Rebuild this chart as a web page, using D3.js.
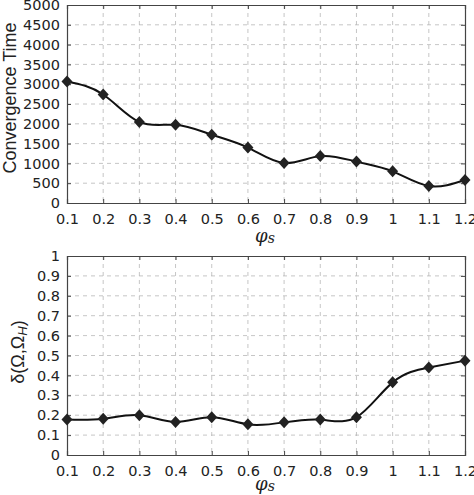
<!DOCTYPE html>
<html>
<head>
<meta charset="utf-8">
<script src="https://cdn.jsdelivr.net/npm/d3@7"></script>
<style>
  body { margin: 0; background: #fff; }
  svg { display: block; }
  .tick text { font-family: "DejaVu Sans", sans-serif; font-size: 14.5px; fill: #222; }
</style>
</head>
<body>
<script>
var phiS = [0.1, 0.2, 0.3, 0.4, 0.5, 0.6, 0.7, 0.8, 0.9, 1.0, 1.1, 1.2];
var convTime = [3070, 2740, 2045, 1975, 1725, 1400, 1010, 1185, 1045, 800, 430, 580];
var deltaVals = [0.178, 0.182, 0.200, 0.166, 0.190, 0.154, 0.164, 0.178, 0.190, 0.365, 0.440, 0.474];
var xTicks = [0.1, 0.2, 0.3, 0.4, 0.5, 0.6, 0.7, 0.8, 0.9, 1, 1.1, 1.2];
var yTicksTop = [0, 500, 1000, 1500, 2000, 2500, 3000, 3500, 4000, 4500, 5000];
var yTicksBottom = [0, 0.1, 0.2, 0.3, 0.4, 0.5, 0.6, 0.7, 0.8, 0.9, 1];

var w = 474, h = 495;
var left = 67, right = 465;

var svg = d3.select("body").append("svg")
    .attr("width", w)
    .attr("height", h);

var xScale = d3.scaleLinear().domain([0.1, 1.2]).range([left, right]);

function drawPanel(top, bottom, yMax, yTicks, values, yFormat) {
    var yScale = d3.scaleLinear().domain([0, yMax]).range([bottom, top]);
    var g = svg.append("g");

    // dashed grid
    g.selectAll("line.vgrid").data(xTicks.slice(1, -1)).enter().append("line")
        .attr("x1", function(d) { return xScale(d); })
        .attr("x2", function(d) { return xScale(d); })
        .attr("y1", top).attr("y2", bottom)
        .attr("stroke", "#b8b8b8").attr("stroke-width", 0.8)
        .attr("stroke-dasharray", "4,4");
    g.selectAll("line.hgrid").data(yTicks.slice(1, -1)).enter().append("line")
        .attr("y1", function(d) { return yScale(d); })
        .attr("y2", function(d) { return yScale(d); })
        .attr("x1", left).attr("x2", right)
        .attr("stroke", "#b8b8b8").attr("stroke-width", 0.8)
        .attr("stroke-dasharray", "4,4");

    // axes, ticks inward like matlab
    var xAxis = d3.axisBottom(xScale).tickValues(xTicks)
        .tickSize(-4).tickPadding(11)
        .tickFormat(function(d) { return d3.format("")(+d.toFixed(1)); });
    g.append("g").attr("transform", "translate(0," + bottom + ")").call(xAxis);

    var xTop = d3.axisTop(xScale).tickValues(xTicks).tickSize(-4).tickFormat("");
    g.append("g").attr("transform", "translate(0," + top + ")").call(xTop);

    var yAxis = d3.axisLeft(yScale).tickValues(yTicks)
        .tickSize(-4).tickPadding(7).tickFormat(yFormat);
    g.append("g").attr("transform", "translate(" + left + ",0)").call(yAxis);

    var yRight = d3.axisRight(yScale).tickValues(yTicks).tickSize(-4).tickFormat("");
    g.append("g").attr("transform", "translate(" + right + ",0)").call(yRight);

    g.selectAll(".domain").attr("stroke", "#444").attr("stroke-width", 1.2);
    g.selectAll(".tick line").attr("stroke", "#444");

    var line = d3.line()
        .x(function(d, i) { return xScale(phiS[i]); })
        .y(function(d) { return yScale(d); })
        .curve(d3.curveNatural);

    g.append("path")
        .datum(values)
        .attr("d", line)
        .attr("fill", "none")
        .attr("stroke", "#111")
        .attr("stroke-width", 2);

    g.selectAll("path.mark").data(values).enter().append("path")
        .attr("class", "mark")
        .attr("d", "M0,-6L5.5,0L0,6L-5.5,0Z")
        .attr("transform", function(d, i) {
            return "translate(" + xScale(phiS[i]) + "," + yScale(d) + ")";
        })
        .attr("fill", "#222");
}

drawPanel(5, 203, 5000, yTicksTop, convTime, d3.format("d"));
drawPanel(256, 455, 1, yTicksBottom, deltaVals, function(d) { return d3.format("")(+d.toFixed(1)); });

// axis titles
function xLabel(y) {
    var t = svg.append("text")
        .attr("x", 265).attr("y", y)
        .attr("text-anchor", "middle")
        .attr("font-family", "'DejaVu Serif', serif")
        .attr("font-style", "italic")
        .attr("font-size", "18px")
        .attr("fill", "#222");
    t.append("tspan").text("φ");
    t.append("tspan").attr("font-size", "14px").attr("dy", 1).text("s");
}
xLabel(242);
xLabel(490);

svg.append("text")
    .attr("transform", "translate(16,98) rotate(-90)")
    .attr("text-anchor", "middle")
    .attr("font-family", "'Liberation Sans', Arial, sans-serif")
    .attr("font-size", "18px")
    .attr("fill", "#222")
    .text("Convergence Time");

var dl = svg.append("text")
    .attr("transform", "translate(24,352) rotate(-90)")
    .attr("text-anchor", "middle")
    .attr("font-family", "'Liberation Sans', Arial, sans-serif")
    .attr("font-size", "18px")
    .attr("fill", "#222");
dl.append("tspan").text("δ(Ω,Ω");
dl.append("tspan").attr("font-style", "italic").attr("font-size", "13px").attr("dy", 3).text("H");
dl.append("tspan").attr("dy", -3).text(")");
</script>
</body>
</html>
